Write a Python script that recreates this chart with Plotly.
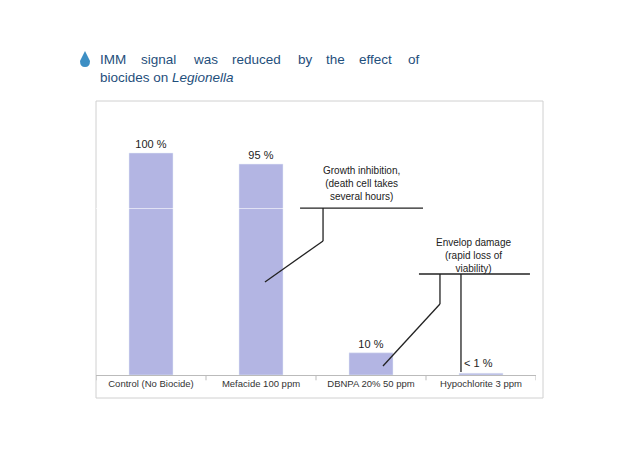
import plotly.graph_objects as go

categories = ["Control (No Biocide)", "Mefacide 100 ppm", "DBNPA 20% 50 ppm", "Hypochlorite 3 ppm"]
values = [100, 95, 10, 0.8]
labels = ["100 %", "95 %", "10 %", ""]

OFF = 8  # page body margin
L, T, W, H = 96 - OFF, 110 - OFF, 440, 265
def px(x): return (x - OFF - L) / W
def py(y): return (T + H - (y - OFF)) / H

fig = go.Figure(go.Bar(x=list(range(4)), y=values, marker_color="#b3b5e3", width=0.4,
                       text=labels, textposition="outside", cliponaxis=False,
                       textfont=dict(size=11, color="#222")))
font = "Liberation Sans, Arial"
shapes = []
shapes.append(dict(type="rect", xref="paper", yref="paper", x0=px(96), x1=px(543), y0=py(398), y1=py(101),
                   line=dict(color="#d0d0d0", width=1), layer="below"))
shapes.append(dict(type="line", xref="paper", yref="y", x0=0, x1=1, y0=75, y1=75,
                   line=dict(color="rgba(255,255,255,0.6)", width=1)))
lk = dict(color="#222", width=1.3)
for x0, y0, x1, y1 in [(1.355, 75.2, 2.473, 75.2), (1.564, 75.2, 1.564, 60.4), (1.564, 60.4, 1.036, 41.9),
                       (2.436, 45.5, 3.445, 45.5), (2.627, 45.5, 2.627, 32.0), (2.627, 32.0, 2.109, 4.05),
                       (2.818, 45.5, 2.818, 1.3)]:
    shapes.append(dict(type="line", xref="x", yref="y", x0=x0, y0=y0, x1=x1, y1=y1, line=lk))
dx0, dx1, dtop, dbot = px(80), px(90), py(51), py(67)
cx = (dx0 + dx1) / 2
shapes.append(dict(type="path", xref="paper", yref="paper",
                   path=f"M {cx} {dtop} L {dx1} {py(61)} Q {dx1} {dbot} {cx} {dbot} Q {dx0} {dbot} {dx0} {py(61)} Z",
                   fillcolor="#3d8fc4", line=dict(width=0)))

ann = []
for w, x in [("IMM", 99), ("signal", 140), ("was", 192), ("reduced", 231), ("by", 297),
             ("the", 325), ("effect", 358), ("of", 407)]:
    ann.append(dict(xref="paper", yref="paper", x=px(x), y=py(59), text=w, showarrow=False, xanchor="left",
                    yanchor="middle", xshift=-1, font=dict(family=font, size=13.5, color="#1f4f7c")))
ann.append(dict(xref="paper", yref="paper", x=px(99), y=py(77), text="biocides on <i>Legionella</i>", showarrow=False,
                xanchor="left", yanchor="middle", xshift=-1, font=dict(family=font, size=13.5, color="#1f4f7c")))
ann.append(dict(xref="x", yref="y", x=1.91, y=77, text="Growth inhibition,<br>(death cell takes<br>several hours)",
                showarrow=False, yanchor="bottom", font=dict(family=font, size=10, color="#222")))
ann.append(dict(xref="x", yref="y", x=2.936, y=44.5, text="Envelop damage<br>(rapid loss of<br>viability)",
                showarrow=False, yanchor="bottom", font=dict(family=font, size=10, color="#222")))
ann.append(dict(xref="x", yref="y", x=2.83, y=2, text="< 1 %", showarrow=False, xanchor="left", yanchor="bottom",
                font=dict(family=font, size=11, color="#222")))

fig.update_layout(width=638, height=451, margin=dict(l=L, r=638 - L - W, t=T, b=451 - T - H),
                  paper_bgcolor="white", plot_bgcolor="white", showlegend=False,
                  font=dict(family=font), shapes=shapes, annotations=ann,
                  xaxis=dict(range=[-0.5, 3.5], tickvals=list(range(4)), ticktext=categories, showline=True,
                             linecolor="#bbb", ticks="", showgrid=False, tickfont=dict(size=9.5, color="#333"),
                             fixedrange=True),
                  yaxis=dict(range=[0, H / 2.22], visible=False, fixedrange=True))
for k in [-0.5, 0.5, 1.5, 2.5, 3.5]:
    fig.add_shape(type="line", xref="x", yref="paper", x0=k, x1=k, y0=0, y1=-0.02, line=dict(color="#bbb", width=1))
fig.write_html("out.html")
